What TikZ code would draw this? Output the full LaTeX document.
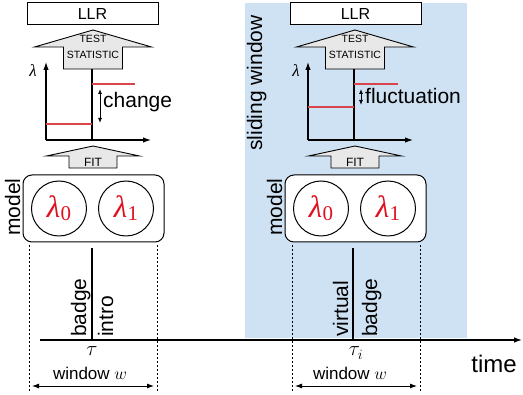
\documentclass[tikz,border=0pt]{standalone}
\usepackage{fontspec}
\setmainfont{Liberation Sans}
\newfontfamily\grkfont{Liberation Serif}
\usetikzlibrary{arrows.meta}
\definecolor{bgblue}{HTML}{CFE2F3}
\definecolor{arrgray}{HTML}{E8E8E8}
\definecolor{lamred}{HTML}{E0101E}
\definecolor{linered}{HTML}{D9454A}
\newcommand{\lamsub}[1]{{\grkfont\itshape\fontsize{31}{31}\selectfont λ}\kern0.5pt\raisebox{-3pt}{\grkfont\fontsize{21}{21}\selectfont #1}}
\begin{document}
\begin{tikzpicture}[x=1pt,y=-1pt,
  lbl/.style={inner sep=0pt, font=\fontsize{21}{21}\selectfont},
  llrbox/.style={draw, line width=1pt, fill=white, minimum width=131pt, minimum height=22pt, inner sep=0pt, font=\fontsize{16}{16}\selectfont},
  blockarr/.style={draw, fill=arrgray, line width=0.9pt, line join=miter},
  tstext/.style={align=center, inner sep=0pt, font=\fontsize{10.5}{16}\selectfont},
  fittext/.style={inner sep=0pt, font=\fontsize{12}{12}\selectfont},
  modelbox/.style={draw, line width=1pt, fill=white, rounded corners=9pt, minimum width=141pt, minimum height=67pt},
  lamcirc/.style={circle, draw, line width=1pt, fill=white, minimum size=55pt, inner sep=0pt, text=lamred},
  axisarr/.style={line width=1.1pt, -{Latex[length=8pt,width=5.5pt]}},
  chartline/.style={line width=1.1pt},
  redline/.style={line width=1.1pt, linered},
  dblarr/.style={line width=0.9pt, {Latex[length=5pt,width=4pt]}-{Latex[length=5pt,width=4pt]}},
  winarr/.style={line width=0.9pt, {Latex[length=7pt,width=5pt]}-{Latex[length=7pt,width=5pt]}},
  winline/.style={line width=0.6pt, dash pattern=on 2pt off 2pt},
  laxis/.style={inner sep=0pt, font=\grkfont\itshape\fontsize{17}{17}\selectfont},
  taulbl/.style={inner sep=0pt, font=\fontsize{21}{21}\selectfont},
  wintext/.style={inner sep=0pt, font=\fontsize{17}{17}\selectfont}
]
\useasboundingbox (0,0) rectangle (523,395);
% sliding window background
\fill[bgblue] (245,3) rectangle (467,338);
\node[lbl, rotate=90, anchor=base] (slide) at (262,83) {sliding window};

% ================= LEFT PANEL =================
\node[llrbox] (Lllr) at (92.5,14) {LLR};
\coordinate (Lo) at (46,140);
\coordinate (Lytop) at (46,62);
\coordinate (Lxend) at (151,140);
\coordinate (Lct) at (92,69);
\coordinate (Lcb) at (92,140);
\draw[axisarr] (Lo) -- (Lytop);
\draw[axisarr] (Lo) -- (Lxend);
\draw[chartline] (Lct) -- (Lcb);
\coordinate (Lr0a) at (46,124); \coordinate (Lr0b) at (92,124);
\coordinate (Lr1a) at (92,84);  \coordinate (Lr1b) at (135,84);
\draw[redline] (Lr0a) -- (Lr0b);
\draw[redline] (Lr1a) -- (Lr1b);
\coordinate (Lda) at (100,89); \coordinate (Ldb) at (100,123);
\draw[dblarr] (Lda) -- (Ldb);
\node[lbl, anchor=west] (Lchange) at (103,102) {change};
\node[laxis] (Llam) at (33,71) {λ};
\draw[blockarr] (93,30) -- (151.5,47) -- (122.5,47) -- (122.5,69) -- (63.5,69) -- (63.5,47) -- (34.5,47) -- cycle;
\node[tstext] (Lts) at (93,47) {TEST\\STATISTIC};
\draw[blockarr] (93,146) -- (139.5,156) -- (117,156) -- (117,168) -- (69,168) -- (69,156) -- (46.5,156) -- cycle;
\node[fittext] (Lfit) at (93,162) {FIT};
\node[modelbox] (Lmodel) at (93.5,208.5) {};
\node[lamcirc] (Ll0) at (59,208.5) {\lamsub{0}};
\node[lamcirc] (Ll1) at (126,208.5) {\lamsub{1}};
\node[lbl, rotate=90, anchor=base] (Lmodeltxt) at (20,207) {model};
\coordinate (Lw1a) at (29,245); \coordinate (Lw1b) at (29,391);
\coordinate (Lw2a) at (157,245); \coordinate (Lw2b) at (157,391);
\draw[winline] (Lw1a) -- (Lw1b);
\draw[winline] (Lw2a) -- (Lw2b);
\coordinate (Lea) at (92,248); \coordinate (Leb) at (92,340);
\draw[chartline] (Lea) -- (Leb);
\node[lbl, rotate=90, anchor=base west] (Lbadge) at (86,337) {badge};
\node[lbl, rotate=90, anchor=base west] (Lintro) at (113,337) {intro};
\node[taulbl] (Ltau) at (92,351) {$\tau$};
\node[wintext] (Lwin) at (90,373) {window $w$};
\coordinate (Lwa) at (32,386); \coordinate (Lwb) at (154,386);
\draw[winarr] (Lwa) -- (Lwb);

% ================= RIGHT PANEL =================
\node[llrbox] (Rllr) at (355.5,14) {LLR};
\coordinate (Ro) at (308,140);
\coordinate (Rytop) at (308,62);
\coordinate (Rxend) at (413,140);
\coordinate (Rct) at (354,69);
\coordinate (Rcb) at (354,140);
\draw[axisarr] (Ro) -- (Rytop);
\draw[axisarr] (Ro) -- (Rxend);
\draw[chartline] (Rct) -- (Rcb);
\coordinate (Rr0a) at (308,107); \coordinate (Rr0b) at (354,107);
\coordinate (Rr1a) at (354,84);  \coordinate (Rr1b) at (398,84);
\draw[redline] (Rr0a) -- (Rr0b);
\draw[redline] (Rr1a) -- (Rr1b);
\coordinate (Rda) at (361,89); \coordinate (Rdb) at (361,105);
\draw[dblarr] (Rda) -- (Rdb);
\node[lbl, anchor=west] (Rfluct) at (365,96) {fluctuation};
\node[laxis] (Rlam) at (296,71) {λ};
\draw[blockarr] (355,30) -- (413.5,47) -- (384.5,47) -- (384.5,69) -- (325.5,69) -- (325.5,47) -- (296.5,47) -- cycle;
\node[tstext] (Rts) at (355,47) {TEST\\STATISTIC};
\draw[blockarr] (355,146) -- (401.5,156) -- (379,156) -- (379,168) -- (331,168) -- (331,156) -- (308.5,156) -- cycle;
\node[fittext] (Rfit) at (355,162) {FIT};
\node[modelbox] (Rmodel) at (355.5,208.5) {};
\node[lamcirc] (Rl0) at (321,208.5) {\lamsub{0}};
\node[lamcirc] (Rl1) at (388,208.5) {\lamsub{1}};
\node[lbl, rotate=90, anchor=base] (Rmodeltxt) at (282,207) {model};
\coordinate (Rw1a) at (292,245); \coordinate (Rw1b) at (292,391);
\coordinate (Rw2a) at (420,245); \coordinate (Rw2b) at (420,391);
\draw[winline] (Rw1a) -- (Rw1b);
\draw[winline] (Rw2a) -- (Rw2b);
\coordinate (Rea) at (353,248); \coordinate (Reb) at (353,340);
\draw[chartline] (Rea) -- (Reb);
\node[lbl, rotate=90, anchor=base west] (Rvirt) at (348,337) {virtual};
\node[lbl, rotate=90, anchor=base west] (Rbadge) at (377,337) {badge};
\node[taulbl] (Rtau) at (356,353) {$\tau_i$};
\node[wintext] (Rwin) at (350,373) {window $w$};
\coordinate (Rwa) at (295,386); \coordinate (Rwb) at (417,386);
\draw[winarr] (Rwa) -- (Rwb);

% ================= TIME AXIS =================
\coordinate (tstart) at (40,340);
\coordinate (tend) at (522,340);
\draw[axisarr] (tstart) -- (tend);
\node[inner sep=0pt, font=\fontsize{24}{24}\selectfont] (time) at (494,364) {time};
\end{tikzpicture}
\end{document}
